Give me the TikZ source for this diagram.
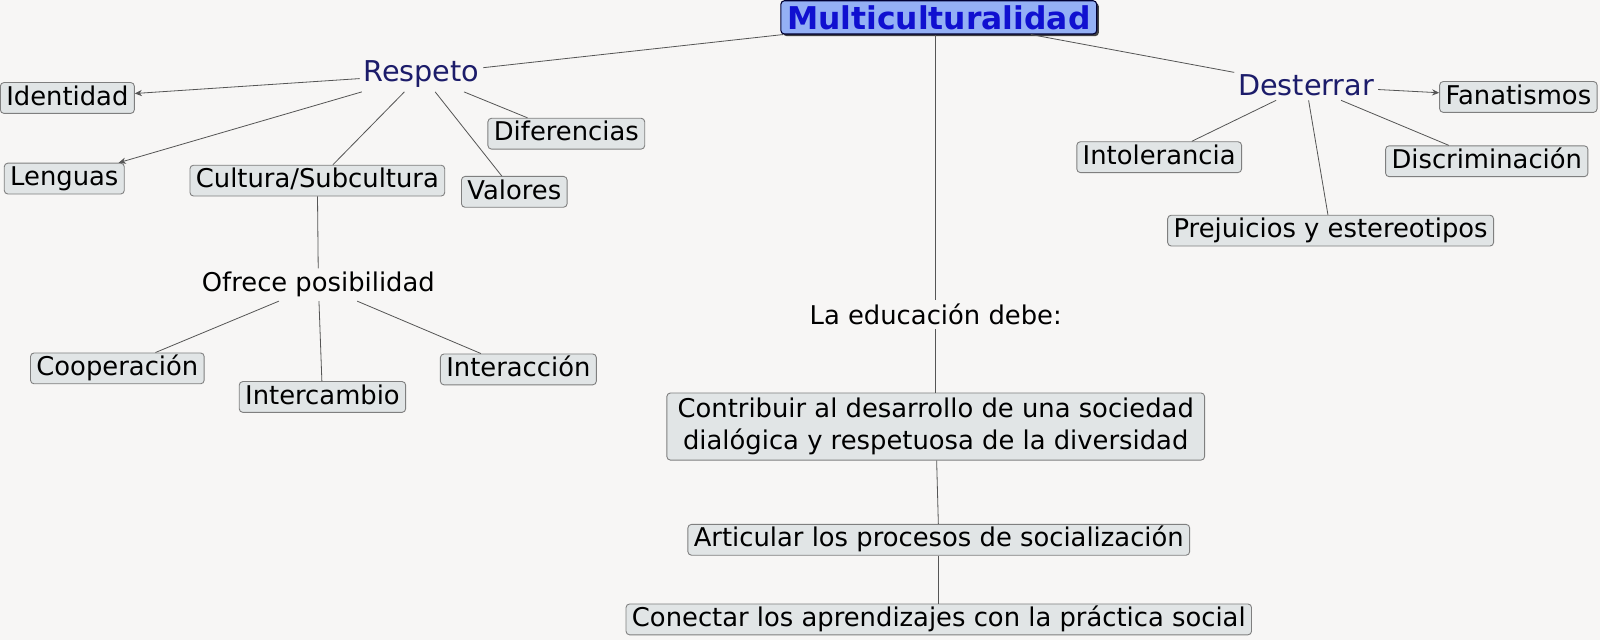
\documentclass[tikz,border=0pt]{standalone}
\usepackage{fontspec}
\setmainfont{DejaVu Sans}
\usetikzlibrary{arrows.meta,shadows}
\definecolor{bgcol}{HTML}{F7F6F5}
\definecolor{boxfill}{HTML}{E1E5E6}
\definecolor{boxline}{HTML}{7F7F7F}
\definecolor{titlefill}{HTML}{94B0F5}
\definecolor{titletext}{HTML}{1010D0}
\definecolor{linkword}{HTML}{1C1C6A}
\definecolor{linkline}{HTML}{555555}

\begin{document}
\begin{tikzpicture}[x=0.02cm, y=-0.02cm,
    concept/.style={draw=boxline, fill=boxfill, rounded corners=2pt, line width=0.5pt,
      inner xsep=3.3pt, inner ysep=1pt, text height=11.6pt, text depth=3.6pt,
      font=\fontsize{14.4}{17.5}\selectfont},
    linkw/.style={text=linkword, inner sep=2pt, font=\fontsize{16}{19}\selectfont},
    plain/.style={inner sep=2pt, font=\fontsize{14.4}{17.5}\selectfont},
    conn/.style={draw=linkline, line width=0.45pt},
    arr/.style={conn, -{Stealth[length=4pt,width=3.5pt]}}]
    \fill[bgcol] (0,0) rectangle (1568,627);
    \useasboundingbox (0,0) rectangle (1568,627);

    \node[draw=black!80!blue, fill=titlefill, rounded corners=2pt, line width=0.6pt,
      inner xsep=3.5pt, inner ysep=2.5pt, text=titletext,
      drop shadow={shadow xshift=1.2pt, shadow yshift=-1.2pt, fill=black!75, opacity=1},
      font=\fontsize{17.5}{20}\selectfont\bfseries] (multi) at (920,17) {Multiculturalidad};

    % Respeto
    \node[linkw] (respeto) at (413,73) {Respeto};
    \node[concept] (identidad) at (66,96) {Identidad};
    \node[concept] (lenguas) at (63,175) {Lenguas};
    \node[concept] (cultura) at (311,177) {Cultura/Subcultura};
    \node[concept] (diferencias) at (555,131) {Diferencias};
    \node[concept] (valores) at (504,188) {Valores};
    \node[plain] (ofrece) at (312,279) {Ofrece posibilidad};
    \node[concept] (cooperacion) at (115,361) {Cooperación};
    \node[concept] (intercambio) at (316,389) {Intercambio};
    \node[concept] (interaccion) at (508,362) {Interacción};

    % Educacion
    \node[plain] (educacion) at (917,308) {La educación debe:};
    \node[concept, align=center, text height=, text depth=, inner ysep=3pt, inner xsep=6pt] (contribuir) at (917,418)
      {Contribuir al desarrollo de una sociedad\\dialógica y respetuosa de la diversidad};
    \node[concept] (articular) at (920,529) {Articular los procesos de socialización};
    \node[concept] (conectar) at (920,607) {Conectar los aprendizajes con la práctica social};

    % Desterrar
    \node[linkw] (desterrar) at (1280,84) {Desterrar};
    \node[concept] (fanatismos) at (1488,95) {Fanatismos};
    \node[concept] (intolerancia) at (1136,154) {Intolerancia};
    \node[concept] (discriminacion) at (1457,158) {Discriminación};
    \node[concept] (prejuicios) at (1304,226) {Prejuicios y estereotipos};

    \draw[conn] (multi) -- (respeto);
    \draw[conn] (multi) -- (desterrar);
    \draw[conn] (multi.south -| educacion.north) -- (educacion);
    \draw[arr] (respeto) -- (identidad);
    \draw[arr] (respeto) -- (lenguas);
    \draw[conn] (respeto) -- (cultura);
    \draw[conn] (respeto) -- (valores);
    \draw[conn] (respeto) -- (diferencias);
    \draw[conn] (cultura) -- (ofrece);
    \draw[conn] (ofrece) -- (cooperacion);
    \draw[conn] (ofrece) -- (intercambio);
    \draw[conn] (ofrece) -- (interaccion);
    \draw[conn] (educacion) -- (contribuir);
    \draw[conn] (contribuir) -- (articular);
    \draw[conn] (articular) -- (conectar);
    \draw[arr] (desterrar) -- (fanatismos);
    \draw[conn] (desterrar) -- (intolerancia);
    \draw[conn] (desterrar) -- (prejuicios);
    \draw[conn] (desterrar) -- (discriminacion);
  \end{tikzpicture}
\end{document}
